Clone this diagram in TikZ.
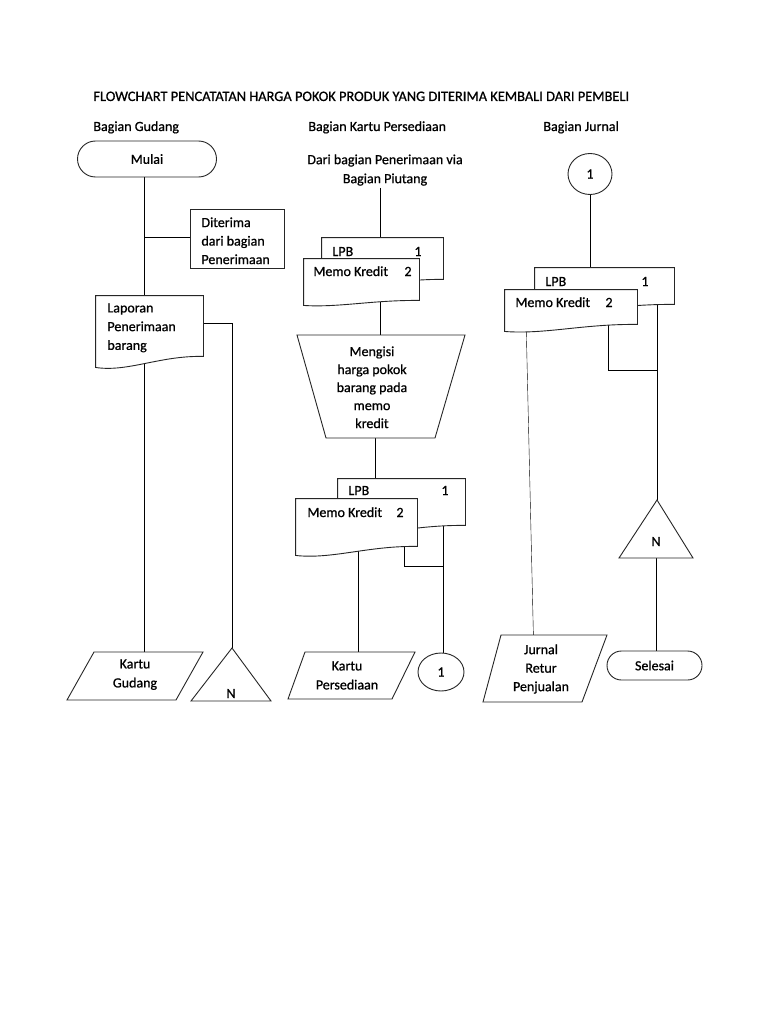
\documentclass[tikz,border=0pt]{standalone}
\usepackage{fontspec}
\setmainfont{Carlito}[FakeBold=0.8]
\usetikzlibrary{shapes.geometric,calc,fit}
\pgfdeclarelayer{bg}
\pgfsetlayers{bg,main}
\newcommand\docwave[2]{%
  \draw[shapeline] (#1.south east) -- (#1.north east) -- (#1.north west) -- ($(#1.south west)+(0,#2)$)
   .. controls ($(#1.south west)!0.3!(#1.south east)+(0,1.45*#2)$) and ($(#1.south west)!0.6!(#1.south east)+(0,-0.1*#2)$) .. (#1.south east) -- cycle;}
\begin{document}
\begin{tikzpicture}[x=1pt,y=-1pt,line width=0.9pt,
  every node/.style={inner sep=0pt,font=\fontsize{14}{18.7}\selectfont},
  shapeline/.style={draw=black!85,fill=white,line join=miter},
  txt/.style={anchor=base west},
  mtxt/.style={anchor=north,align=center},
  ltxt/.style={anchor=north west,align=left},
  term/.style={draw=black!85,fill=white},
  conn/.style={ellipse,draw=black!85,fill=white}]
\useasboundingbox (0,0) rectangle (768,1024);

% titles
\node[txt,font=\fontsize{14.4}{17}\selectfont] (title) at (93,101) {FLOWCHART PENCATATAN HARGA POKOK PRODUK YANG DITERIMA KEMBALI DARI PEMBELI};
\node[txt] (h1) at (93,131) {Bagian Gudang};
\node[txt] (h2) at (308,131) {Bagian Kartu Persediaan};
\node[txt] (h3) at (543,131) {Bagian Jurnal};

% ---------- column 1
\node[term,rounded corners=18pt,minimum width=139pt,minimum height=36pt] (mulai) at (147,159) {Mulai};
\node[draw=black!85,fill=white,fit={(190,209) (284,268)}] (dit) {};
\node[ltxt,font=\fontsize{14}{18.5}\selectfont] (ditt) at (201,217) {Diterima\\dari bagian\\Penerimaan};
\node[fit={(96,296) (203,356)}] (lap) {};
\docwave{lap}{11}
\node[ltxt] (lapt) at (107,303) {Laporan\\Penerimaan\\barang};
\coordinate (kg1) at (94,652);
\coordinate (kg2) at (203,652);
\coordinate (kg3) at (176,700);
\coordinate (kg4) at (67,700);
\draw[shapeline] (kg1) -- (kg2) -- (kg3) -- (kg4) -- cycle;
\node[mtxt,font=\fontsize{14}{19}\selectfont] (kgt) at (135,659) {Kartu\\Gudang};
\coordinate (n1a) at (232,648);
\coordinate (n1b) at (271,701);
\coordinate (n1c) at (191,701);
\draw[shapeline] (n1a) -- (n1b) -- (n1c) -- cycle;
\node[anchor=base] (n1t) at (231,698) {N};

% ---------- column 2
\node[mtxt,font=\fontsize{14}{19}\selectfont] (dari) at (385,154) {Dari bagian Penerimaan via\\Bagian Piutang};
\node[fit={(322,238) (443,279)}] (lpb1) {};
\docwave{lpb1}{8}
\node[txt] (lpb1a) at (332,256) {LPB};
\node[txt] (lpb1b) at (414,256) {1};
\node[fit={(304,259) (419,300)}] (memo1) {};
\docwave{memo1}{5}
\node[txt] (memo1a) at (313,276) {Memo Kredit};
\node[txt] (memo1b) at (404,276) {2};
\coordinate (t1) at (297,335);
\coordinate (t2) at (465,335);
\coordinate (t3) at (435,438);
\coordinate (t4) at (326,438);
\draw[shapeline] (t1) -- (t2) -- (t3) -- (t4) -- cycle;
\node[mtxt,font=\fontsize{14}{18}\selectfont] (trt) at (372,346) {Mengisi\\harga pokok\\barang pada\\memo\\kredit};
\node[fit={(338,479) (465,525)}] (lpb2) {};
\docwave{lpb2}{8}
\node[txt] (lpb2a) at (348,495) {LPB};
\node[txt] (lpb2b) at (441,495) {1};
\node[fit={(296,499) (417,546)}] (memo2) {};
\docwave{memo2}{9}
\node[txt] (memo2a) at (307,517) {Memo Kredit};
\node[txt] (memo2b) at (396,517) {2};
\coordinate (kp1) at (305,652);
\coordinate (kp2) at (415,652);
\coordinate (kp3) at (392,699);
\coordinate (kp4) at (288,699);
\draw[shapeline] (kp1) -- (kp2) -- (kp3) -- (kp4) -- cycle;
\node[mtxt,font=\fontsize{14}{19}\selectfont] (kpt) at (347,661) {Kartu\\Persediaan};
\node[conn,minimum width=46pt,minimum height=38pt] (c1) at (441,672) {1};

% ---------- column 3
\node[conn,minimum width=44pt,minimum height=41pt] (c2) at (590,174) {1};
\node[fit={(535,268) (674,304)}] (lpb3) {};
\docwave{lpb3}{7}
\node[txt] (lpb3a) at (545,286) {LPB};
\node[txt] (lpb3b) at (641,286) {1};
\node[fit={(505,290) (637,324)}] (memo3) {};
\docwave{memo3}{7}
\node[txt] (memo3a) at (515,307) {Memo Kredit};
\node[txt] (memo3b) at (605,307) {2};
\coordinate (n3a) at (657,500);
\coordinate (n3b) at (693,558);
\coordinate (n3c) at (619,558);
\draw[shapeline] (n3a) -- (n3b) -- (n3c) -- cycle;
\node[anchor=base] (n3t) at (656,546) {N};
\node[term,rounded corners=14.5pt,minimum width=95pt,minimum height=29pt] (sel) at (654.5,665.5) {Selesai};
\coordinate (jr1) at (501,635);
\coordinate (jr2) at (607,635);
\coordinate (jr3) at (582,702);
\coordinate (jr4) at (483,702);
\draw[shapeline] (jr1) -- (jr2) -- (jr3) -- (jr4) -- cycle;
\node[mtxt,font=\fontsize{14}{18.5}\selectfont] (jrt) at (541,644) {Jurnal\\Retur\\Penjualan};

% ---------- connectors (beneath the shapes)
\coordinate (j1) at (144,237);
\coordinate (j2) at (232,323);
\coordinate (k2a) at (380,188);
\coordinate (k2b) at (375,438);
\coordinate (k2c) at (358,546);
\coordinate (j3) at (404,566);
\coordinate (j4) at (443,566);
\coordinate (k3a) at (526,318);
\coordinate (k3b) at (533.5,640);
\coordinate (j5) at (608,370);
\coordinate (j6) at (657,370);
\begin{pgfonlayer}{bg}
\fill[white] (0,0) rectangle (768,1024);
\draw (mulai.south -| j1) -- (lap.north -| j1);
\draw (j1) -- (dit.west |- j1);
\draw (lap.center -| j1) -- (j1 |- kgt.north);
\draw (lap.center |- j2) -- (j2) -- (n1a);
\draw (k2a) -- (k2a |- lpb1.center);
\draw (k2a |- memo1.center) -- (k2a |- trt.north);
\draw (k2b |- trt.south) -- (k2b |- lpb2.center);
\draw (k2c |- memo2.center) -- (k2c |- kpt.north);
\draw (j3 |- memo2.center) -- (j3) -- (j4);
\draw (j4 |- lpb2.center) -- (j4 |- c1.center);
\draw (c2) -- (c2 |- lpb3.center);
\draw (k3a) -- (k3b);
\draw (j5 |- memo3.center) -- (j5) -- (j6);
\draw (j6 |- lpb3.center) -- (n3a);
\draw (n3t) -- (n3t |- sel.center);
\end{pgfonlayer}
\end{tikzpicture}
\end{document}
